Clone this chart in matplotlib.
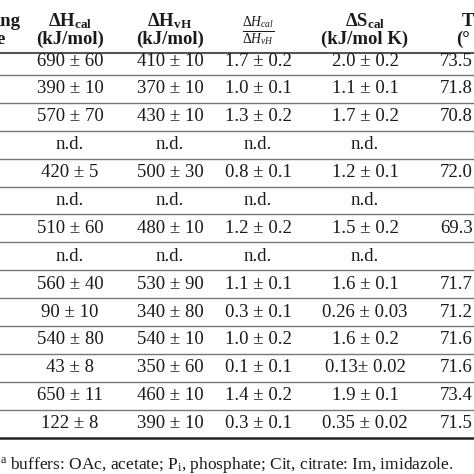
import matplotlib
matplotlib.use("Agg")
import matplotlib.pyplot as plt
plt.rcParams['mathtext.fontset'] = 'custom'
plt.rcParams['mathtext.rm'] = 'Liberation Serif'
plt.rcParams['mathtext.it'] = 'Liberation Serif:italic'
plt.rcParams['mathtext.bf'] = 'Liberation Serif:bold'

dh_cal = ["690 ± 60","390 ± 10","570 ± 70","n.d.","420 ± 5","n.d.","510 ± 60","n.d.","560 ± 40","90 ± 10","540 ± 80","43 ± 8","650 ± 11","122 ± 8"]
dh_vh = ["410 ± 10","370 ± 10","430 ± 10","n.d.","500 ± 30","n.d.","480 ± 10","n.d.","530 ± 90","340 ± 80","540 ± 10","350 ± 60","460 ± 10","390 ± 10"]
ratio = ["1.7 ± 0.2","1.0 ± 0.1","1.3 ± 0.2","n.d.","0.8 ± 0.1","n.d.","1.2 ± 0.2","n.d.","1.1 ± 0.1","0.3 ± 0.1","1.0 ± 0.2","0.1 ± 0.1","1.4 ± 0.2","0.3 ± 0.1"]
ds_cal = ["2.0 ± 0.2","1.1 ± 0.1","1.7 ± 0.2","n.d.","1.2 ± 0.1","n.d.","1.5 ± 0.2","n.d.","1.6 ± 0.1","0.26 ± 0.03","1.6 ± 0.2","0.13± 0.02","1.9 ± 0.1","0.35 ± 0.02"]
tm = ["73.5","71.8","70.8","","72.0","","69.3","","71.7","71.2","71.6","71.6","73.4","71.5"]

fig = plt.figure(figsize=(4.74,4.74), dpi=100)
ax = fig.add_axes([0,0,1,1])
ax.set_xlim(0,474); ax.set_ylim(474,0); ax.axis('off')
F = dict(family="Liberation Serif", fontsize=13.5, color="#1a1a1a", va="center")
B = dict(F, fontweight="bold")
cols = [70,170,258,365]
ax.text(-4,21,"ing",ha="left",**B); ax.text(-4,39,"e",ha="left",**B)
ax.text(70,21,r"ΔH$_\mathbf{cal}$",ha="center",**B); ax.text(70,39,"(kJ/mol)",ha="center",**B)
ax.text(170,21,r"ΔH$_\mathbf{vH}$",ha="center",**B); ax.text(170,39,"(kJ/mol)",ha="center",**B)
ax.text(258,31,r"$\frac{\Delta H_{cal}}{\Delta H_{vH}}$",ha="center",**dict(F,fontsize=14))
ax.text(365,21,r"ΔS$_\mathbf{cal}$",ha="center",**B); ax.text(365,39,"(kJ/mol K)",ha="center",**B)
ax.text(462,21,"T",ha="left",**B); ax.text(456,39,"(°",ha="left",**B)
ax.plot([0,474],[53,53],color="#555",lw=1.5)
y0, dy = 61, 27.9
for i in range(len(dh_cal)):
    y = y0 + i*dy
    for x, s in zip(cols, [dh_cal[i], dh_vh[i], ratio[i], ds_cal[i]]):
        ax.text(x, y, s, ha="center", **F)
    ax.text(440, y, tm[i], ha="left", **F)
    if i < len(dh_cal)-1:
        ax.plot([0,474],[y+dy/2,y+dy/2],color="#777",lw=1)
ax.plot([0,474],[y0+13*dy+dy/2,y0+13*dy+dy/2],color="#222",lw=1.8)
ax.text(0,465,r"$^{\rm a}$ buffers: OAc, acetate; P$_{\rm i}$, phosphate; Cit, citrate: Im, imidazole.",ha="left",**dict(F,fontsize=12.5))
fig.savefig("out.png", dpi=100)
